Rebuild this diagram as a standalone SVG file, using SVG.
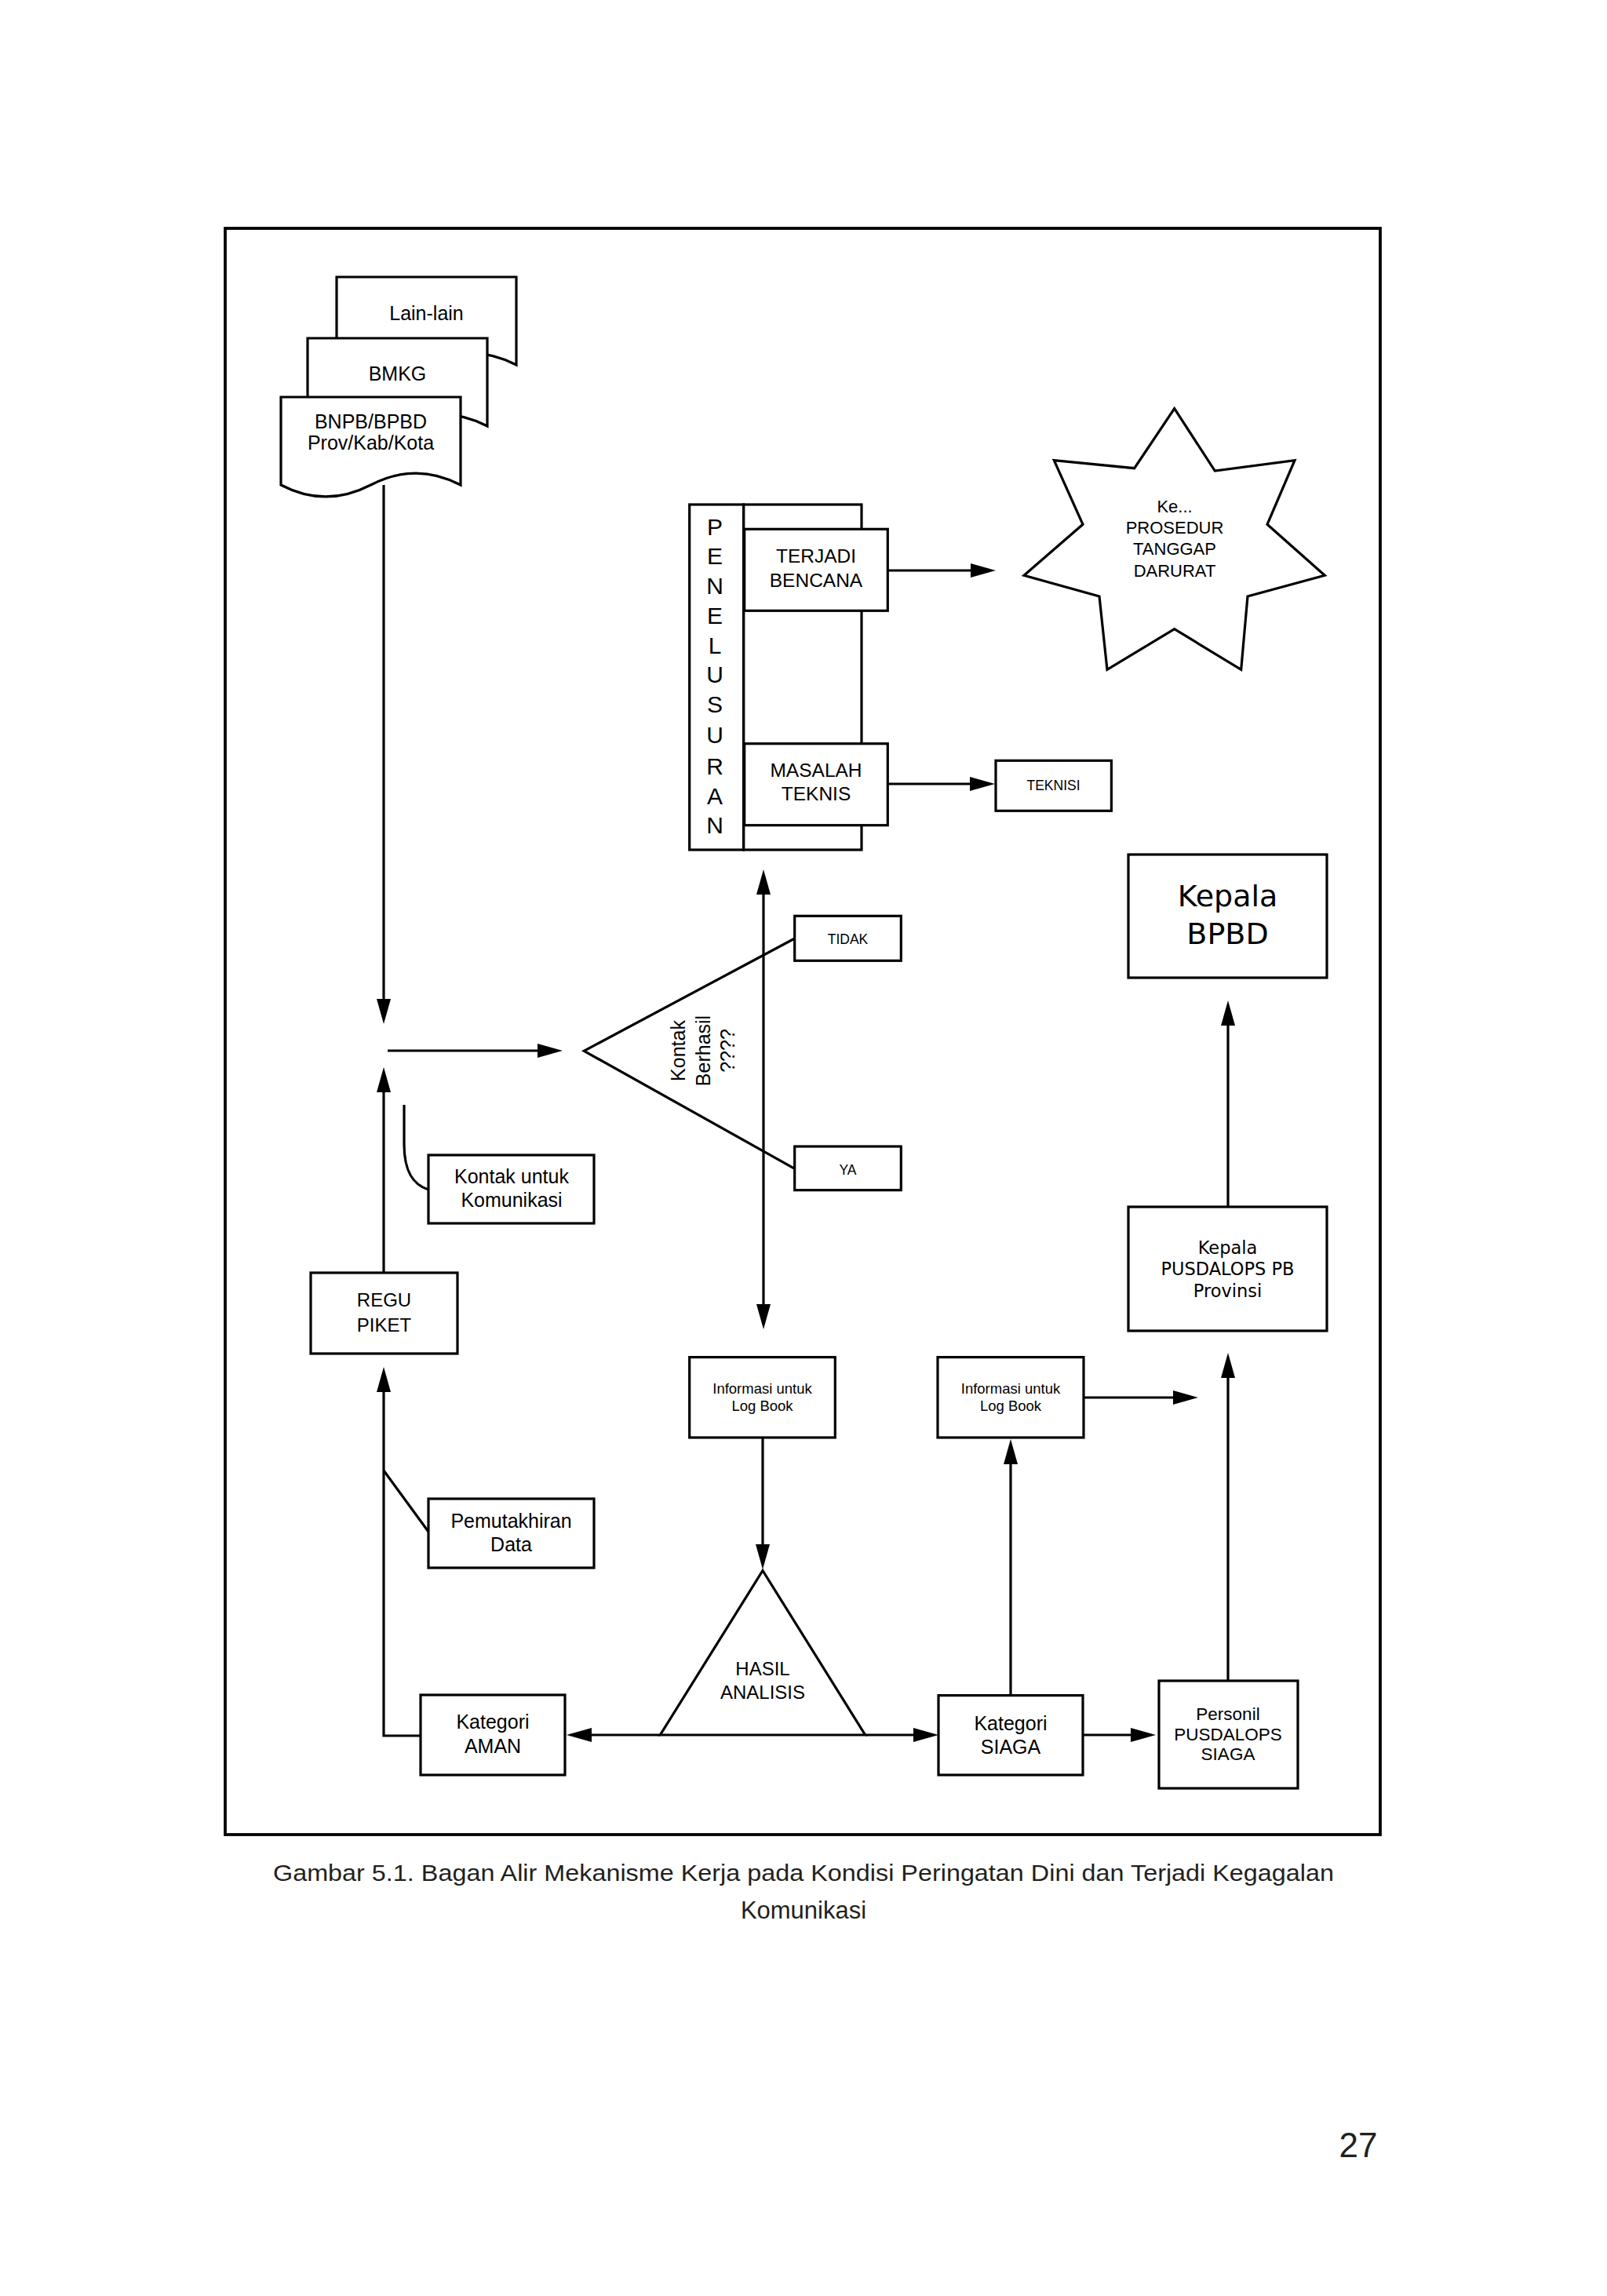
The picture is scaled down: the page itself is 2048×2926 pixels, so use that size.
<svg xmlns="http://www.w3.org/2000/svg" width="2048" height="2926" viewBox="0 0 2048 2926">
<defs>
<style>
.b{fill:#fff;stroke:#000;stroke-width:3.2}
.l{fill:none;stroke:#000;stroke-width:3.2}
.a{fill:none;stroke:#000;stroke-width:3.2;marker-end:url(#ah)}
.t{font-family:"Liberation Sans",Arial,sans-serif;fill:#000;text-anchor:middle}
.d{font-family:"DejaVu Sans",Verdana,sans-serif;fill:#000;text-anchor:middle}
</style>
<marker id="ah" viewBox="0 0 32 18" refX="22" refY="9" markerWidth="32" markerHeight="18" markerUnits="userSpaceOnUse" orient="auto-start-reverse">
<path d="M0,0 L32,9 L0,18 Z" fill="#000"/>
</marker>
</defs>
<rect width="2048" height="2926" fill="#fff"/>
<rect id="frame" x="287" y="291" width="1472" height="2047" fill="none" stroke="#000" stroke-width="3.8"/>

<g id="connectors">
<path class="a" d="M489,618 V1295"/>
<path class="a" d="M494,1339 H707"/>
<path class="a" d="M489,1622 V1370"/>
<path class="a" d="M536,2212 H489 V1752"/>
<path class="l" d="M515,1408 V1458 C515,1494 527,1510 546,1516"/>
<path class="l" d="M489,1874 L546,1952"/>
<path class="a" d="M973,1118 V1684" style="marker-start:url(#ah)"/>
<path class="a" d="M1131,727 H1259"/>
<path class="a" d="M1131,999 H1258"/>
<path class="a" d="M972,1832 V1990"/>
<path class="a" d="M842,2211 H732"/>
<path class="a" d="M1103,2211 H1186"/>
<path class="a" d="M1288,2160 V1844"/>
<path class="a" d="M1381,1781 H1517"/>
<path class="a" d="M1380,2211 H1463"/>
<path class="a" d="M1565,2142 V1734"/>
<path class="a" d="M1565,1538 V1285"/>
</g>

<g id="doc-lain">
<path class="b" d="M429,353 H658 V465 C620,445 582,445 543.5,465 C505,485 467,485 429,465 Z"/>
<text class="t" x="543.5" y="408" font-size="25">Lain-lain</text>
</g>
<g id="doc-bmkg">
<path class="b" d="M392,431 H621 V543 C583,523 545,523 506.5,543 C468,563 430,563 392,543 Z"/>
<text class="t" x="506.5" y="485" font-size="25">BMKG</text>
</g>
<g id="doc-bnpb">
<path class="b" d="M358,506 H587 V618 C549,598 511,598 472.5,618 C434,638 396,638 358,618 Z"/>
<text class="t" x="472.5" y="546" font-size="25">BNPB/BPBD</text>
<text class="t" x="472.5" y="573" font-size="25">Prov/Kab/Kota</text>
</g>

<g id="penelusuran">
<rect class="b" x="947.6" y="643" width="150.4" height="440"/>
<rect class="b" x="878.7" y="643" width="68.9" height="440"/>
<g class="t" font-size="30">
<text x="911" y="682">P</text>
<text x="911" y="719">E</text>
<text x="911" y="757">N</text>
<text x="911" y="795">E</text>
<text x="911" y="833">L</text>
<text x="911" y="870">U</text>
<text x="911" y="908">S</text>
<text x="911" y="947">U</text>
<text x="911" y="987">R</text>
<text x="911" y="1025">A</text>
<text x="911" y="1062">N</text>
</g>
</g>
<g id="terjadi">
<rect class="b" x="948.7" y="674.3" width="182.6" height="104"/>
<text class="t" x="1040" y="717" font-size="24.5">TERJADI</text>
<text class="t" x="1040" y="748" font-size="24.5">BENCANA</text>
</g>
<g id="masalah">
<rect class="b" x="948.7" y="947.7" width="182.6" height="104"/>
<text class="t" x="1040" y="990" font-size="24.5">MASALAH</text>
<text class="t" x="1040" y="1020" font-size="24.5">TEKNIS</text>
</g>
<g id="star">
<polygon class="b" points="1496.7,520.7 1548.3,600 1650,586.7 1615,668.3 1688.3,733.3 1590,760 1581.7,853.3 1496.7,801.7 1411,853.3 1401,760 1305,733.3 1380,668.3 1343.3,586.7 1445.7,596.7"/>
<g class="t" font-size="22">
<text x="1497" y="653">Ke...</text>
<text x="1497" y="680">PROSEDUR</text>
<text x="1497" y="707">TANGGAP</text>
<text x="1497" y="735">DARURAT</text>
</g>
</g>
<g id="teknisi">
<rect class="b" x="1269" y="969.3" width="147.4" height="64"/>
<text class="t" x="1342.5" y="1007" font-size="17.5">TEKNISI</text>
</g>

<g id="kepala-bpbd">
<rect class="b" x="1438" y="1089" width="253" height="157"/>
<text class="d" x="1564.5" y="1155" font-size="38">Kepala</text>
<text class="d" x="1564.5" y="1203" font-size="38">BPBD</text>
</g>

<g id="kontak-berhasil">
<path class="l" d="M1012.7,1196 L744.3,1339.3 L1012.7,1489.3"/>
<text class="t" font-size="25" transform="translate(873,1339) rotate(-90)"><tspan x="0" y="0">Kontak</tspan><tspan x="0" y="32">Berhasil</tspan><tspan x="0" y="63">????</tspan></text>
</g>
<g id="tidak">
<rect class="b" x="1012.7" y="1167.3" width="135.6" height="57"/>
<text class="t" x="1080.5" y="1203" font-size="17.5">TIDAK</text>
</g>
<g id="ya">
<rect class="b" x="1012.7" y="1461" width="135.6" height="55.7"/>
<text class="t" x="1080.5" y="1497" font-size="17.5">YA</text>
</g>

<g id="kontak-komunikasi">
<rect class="b" x="546" y="1472" width="211" height="87"/>
<text class="t" x="652" y="1508" font-size="25">Kontak untuk</text>
<text class="t" x="652" y="1538" font-size="25">Komunikasi</text>
</g>
<g id="regu-piket">
<rect class="b" x="396" y="1622" width="187" height="103"/>
<text class="t" x="489.5" y="1665" font-size="24">REGU</text>
<text class="t" x="489.5" y="1697" font-size="24">PIKET</text>
</g>
<g id="pemutakhiran">
<rect class="b" x="546" y="1910" width="211" height="88"/>
<text class="t" x="651.5" y="1947" font-size="25">Pemutakhiran</text>
<text class="t" x="651.5" y="1977" font-size="25">Data</text>
</g>

<g id="pusdalops-pb">
<rect class="b" x="1438" y="1538" width="253" height="158"/>
<text class="d" x="1564.5" y="1598" font-size="22.5">Kepala</text>
<text class="d" x="1564.5" y="1625" font-size="22.5">PUSDALOPS PB</text>
<text class="d" x="1564.5" y="1653" font-size="22.5">Provinsi</text>
</g>

<g id="info-1">
<rect class="b" x="878.7" y="1729.6" width="185.6" height="102.4"/>
<text class="t" x="971.5" y="1776" font-size="18.5">Informasi untuk</text>
<text class="t" x="971.5" y="1798" font-size="18.5">Log Book</text>
</g>
<g id="info-2">
<rect class="b" x="1195" y="1729.6" width="186" height="102.4"/>
<text class="t" x="1288" y="1776" font-size="18.5">Informasi untuk</text>
<text class="t" x="1288" y="1798" font-size="18.5">Log Book</text>
</g>

<g id="hasil-analisis">
<polygon class="b" points="972,2001.5 1102.6,2211 841.4,2211"/>
<text class="t" x="972" y="2135" font-size="24">HASIL</text>
<text class="t" x="972" y="2165" font-size="24">ANALISIS</text>
</g>
<g id="kategori-aman">
<rect class="b" x="536" y="2160" width="184" height="102"/>
<text class="t" x="628" y="2203" font-size="25">Kategori</text>
<text class="t" x="628" y="2234" font-size="25">AMAN</text>
</g>
<g id="kategori-siaga">
<rect class="b" x="1196" y="2160.6" width="184" height="101.4"/>
<text class="t" x="1288" y="2205" font-size="25">Kategori</text>
<text class="t" x="1288" y="2235" font-size="25">SIAGA</text>
</g>
<g id="personil">
<rect class="b" x="1477" y="2142" width="177" height="137"/>
<text class="t" x="1565" y="2192" font-size="22.5">Personil</text>
<text class="t" x="1565" y="2218" font-size="22.5">PUSDALOPS</text>
<text class="t" x="1565" y="2243" font-size="22.5">SIAGA</text>
</g>

<g id="caption" font-family="'Liberation Sans',Arial,sans-serif" fill="#231f20" text-anchor="middle">
<text x="1024" y="2397" font-size="30" textLength="1352" lengthAdjust="spacingAndGlyphs">Gambar 5.1. Bagan Alir Mekanisme Kerja pada Kondisi Peringatan Dini dan Terjadi Kegagalan</text>
<text x="1024" y="2445" font-size="31">Komunikasi</text>
<text x="1731" y="2749" font-size="44">27</text>
</g>
</svg>
